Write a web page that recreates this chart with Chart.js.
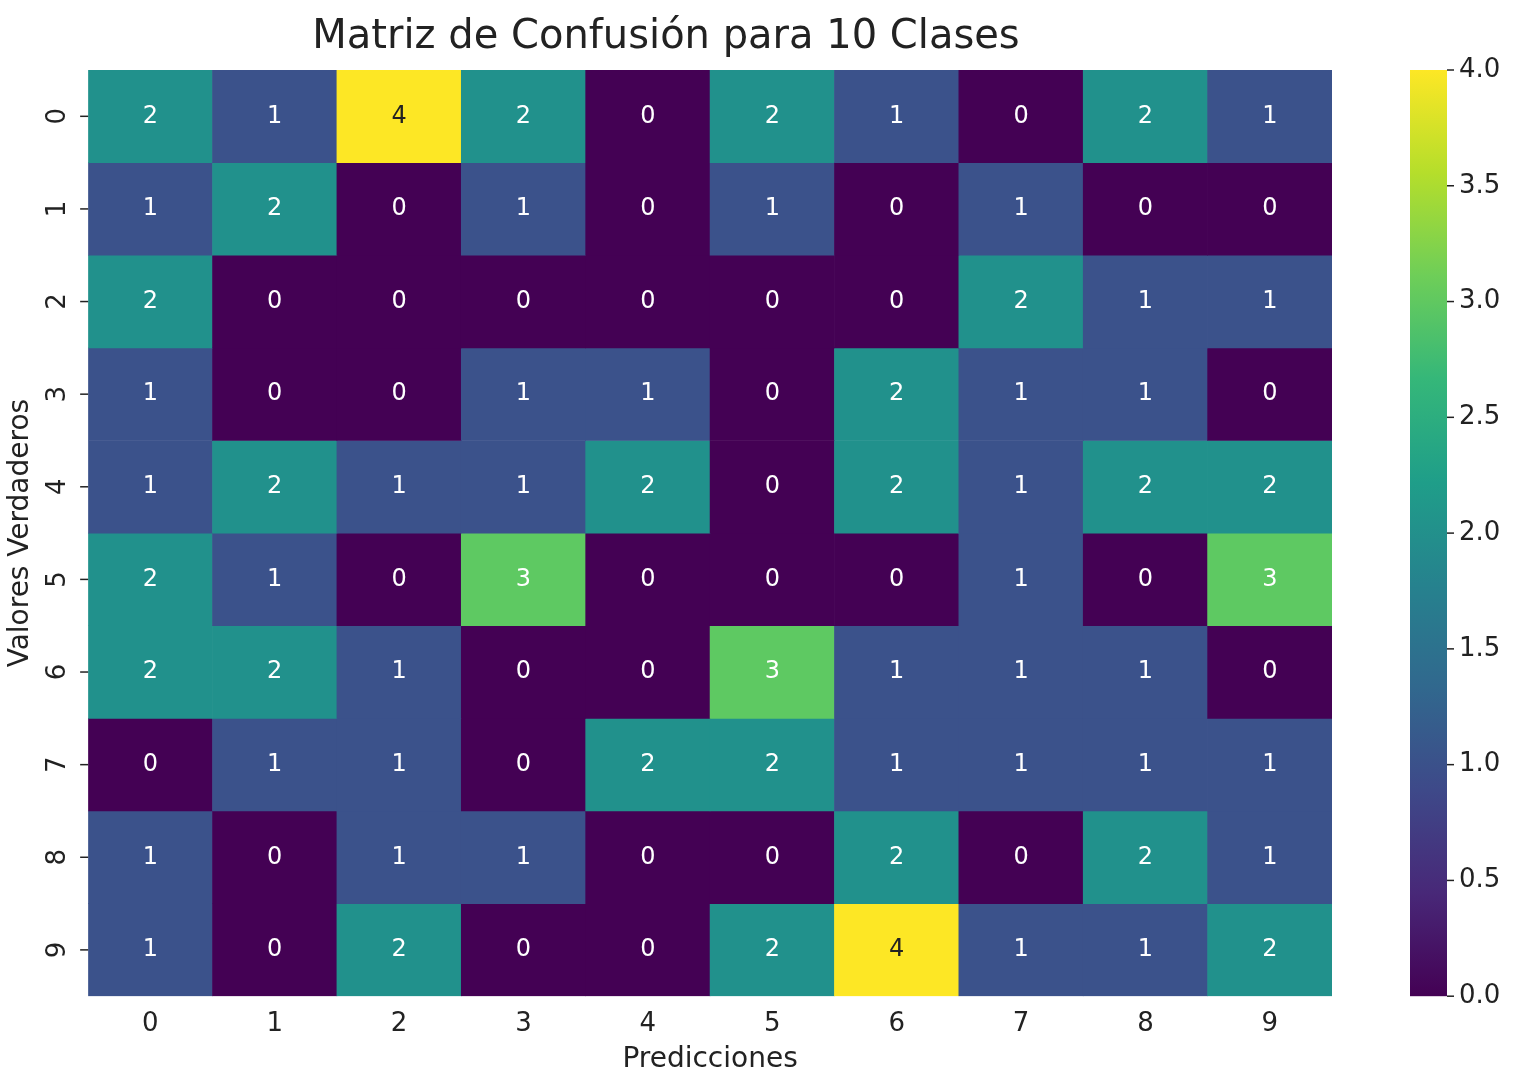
<!DOCTYPE html>
<html><head><meta charset="utf-8">
<script src="https://cdn.jsdelivr.net/npm/chart.js@4"></script>
<style>html,body{margin:0;padding:0;background:#fff}#w{width:1536px;height:1091px}</style>
</head><body><div id="w"><canvas id="c"></canvas></div>
<script>
const classes = ['0','1','2','3','4','5','6','7','8','9'];
const matrix = [
 [2,1,4,2,0,2,1,0,2,1],
 [1,2,0,1,0,1,0,1,0,0],
 [2,0,0,0,0,0,0,2,1,1],
 [1,0,0,1,1,0,2,1,1,0],
 [1,2,1,1,2,0,2,1,2,2],
 [2,1,0,3,0,0,0,1,0,3],
 [2,2,1,0,0,3,1,1,1,0],
 [0,1,1,0,2,2,1,1,1,1],
 [1,0,1,1,0,0,2,0,2,1],
 [1,0,2,0,0,2,4,1,1,2]
];
const cbTicks = [0,0.5,1,1.5,2,2.5,3,3.5,4];
const viridis = ['#440154','#482878','#3e4989','#31688e','#26828e','#1f9e89','#35b779','#6ece58','#b5de2b','#fde725'];
function col(v){const t=v/4*(viridis.length-1);return viridis[Math.round(t)];}
const cellColor = {0:'#440154',1:'#3b528b',2:'#21918c',3:'#5ec962',4:'#fde725'};

const datasets = matrix.map((row,r)=>({
  data: row.map(v=>[r,r+1]),
  vals: row,
  backgroundColor: row.map(v=>cellColor[v]),
  borderWidth:0, barPercentage:1, categoryPercentage:1, grouped:false
}));

const FONT='"DejaVu Sans", sans-serif';
const plugin = {
  id:'extra',
  afterDatasetsDraw(chart){
    const ctx=chart.ctx;
    ctx.save();
    ctx.font='24px '+FONT;ctx.textAlign='center';ctx.textBaseline='middle';
    chart.data.datasets.forEach((ds,di)=>{
      chart.getDatasetMeta(di).data.forEach((el,i)=>{
        const v=ds.vals[i];
        ctx.fillStyle=v>=4?'#222':'#fff';
        ctx.fillText(String(v),el.x,(el.y+el.base)/2);
      });
    });
    // y labels rotated
    const ys=chart.scales.y, xa=chart.chartArea;
    ctx.fillStyle='#222';ctx.font='26px '+FONT;
    classes.forEach((c,i)=>{
      const y=ys.getPixelForValue(i+0.5);
      ctx.save();ctx.translate(xa.left-30,y);ctx.rotate(-Math.PI/2);ctx.fillText(c,0,0);ctx.restore();
      ctx.strokeStyle='#222';ctx.lineWidth=1.5;ctx.beginPath();ctx.moveTo(xa.left-8,y);ctx.lineTo(xa.left,y);ctx.stroke();
    });
    // colorbar
    const L=1410,R=1447,T=xa.top,B=xa.bottom;
    const g=ctx.createLinearGradient(0,B,0,T);
    viridis.forEach((c,i)=>g.addColorStop(i/(viridis.length-1),c));
    ctx.fillStyle=g;ctx.fillRect(L,T,R-L,B-T);
    ctx.textAlign='left';ctx.fillStyle='#222';ctx.font='26px '+FONT;
    cbTicks.forEach(t=>{
      const y=B-(t/4)*(B-T);
      ctx.beginPath();ctx.moveTo(R,y);ctx.lineTo(R+7,y);ctx.stroke();
      ctx.fillText(t.toFixed(1),R+12,y);
    });
    ctx.restore();
  }
};

new Chart(document.getElementById('c'),{
  type:'bar',
  data:{labels:classes,datasets},
  options:{
    responsive:true,maintainAspectRatio:false,animation:false,
    layout:{padding:{left:0,right:204,top:0,bottom:10}},
    plugins:{legend:{display:false},tooltip:{enabled:false},
      title:{display:true,text:'Matriz de Confusión para 10 Clases',color:'#222',font:{family:FONT,size:40,weight:'normal'},padding:{top:14,bottom:8}}},
    scales:{
      x:{grid:{display:false,drawTicks:true},border:{display:false},
        ticks:{color:'#222',font:{family:FONT,size:26},padding:4},
        title:{display:true,text:'Predicciones',color:'#222',font:{family:FONT,size:28},padding:{top:0}}},
      y:{type:'linear',min:0,max:10,reverse:true,grid:{display:false},border:{display:false},
        afterBuildTicks(s){s.ticks=classes.map((c,i)=>({value:i+0.5}));},
        ticks:{color:'rgba(0,0,0,0)',font:{family:FONT,size:26},callback:v=>String(v-0.5)},
        title:{display:true,text:'Valores Verderos'.replace('Verderos','Verdaderos'),color:'#222',font:{family:FONT,size:28},padding:{bottom:20}}}
    }
  },
  plugins:[plugin]
});
</script></body></html>
